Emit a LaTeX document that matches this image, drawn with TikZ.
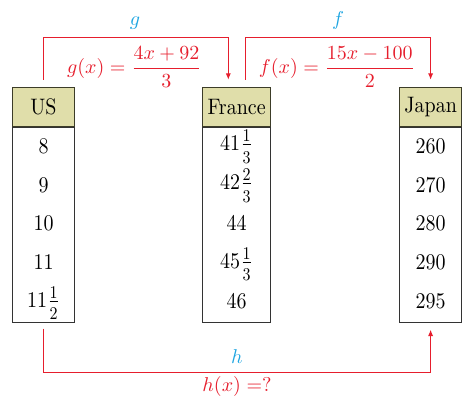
\documentclass[tikz,border=0pt]{standalone}
\usetikzlibrary{arrows.meta}
\usepackage{amsmath}
\definecolor{hdrfill}{RGB}{224,222,170}
\definecolor{hdrline}{RGB}{60,60,40}
\definecolor{arrred}{RGB}{230,30,45}
\definecolor{lblcyan}{RGB}{30,165,225}
\newcommand{\tallv}[1]{\scalebox{1}[1.12]{#1}}
\newcommand{\smdig}[1]{\scalebox{0.8}{$#1$}}
\newcommand{\mixfr}[3]{\tallv{$#1\genfrac{}{}{0.5pt}{1}{\smdig{#2}}{\raisebox{-2.2pt}{\smdig{#3}}}$}}
\tikzset{
  hdr/.style={draw=hdrline, fill=hdrfill, line width=0.5pt, inner sep=0pt},
  bodybox/.style={draw=black!80, line width=0.5pt, inner sep=0pt},
  val/.style={anchor=base, inner sep=0pt},
  arr/.style={draw=arrred, line width=0.6pt, -{Latex[length=3.2pt,width=2.6pt]}},
  fname/.style={text=lblcyan},
  formula/.style={text=arrred},
}
\begin{document}
\begin{tikzpicture}[x=0.5pt,y=-0.5pt]
\useasboundingbox (0,0) rectangle (474,410);
% headers
\node[hdr, minimum width=30.8pt, minimum height=19.7pt] (ush) at (43.5,107) {\tallv{US}};
\node[hdr, minimum width=34.2pt, minimum height=19.7pt] (frh) at (236.6,107) {\tallv{France}};
\node[hdr, minimum width=31pt, minimum height=19.7pt] (jph) at (430.6,107) {\tallv{Japan}};
% bodies
\node[bodybox, minimum width=30.8pt, minimum height=97.2pt, anchor=north] (usb) at (ush.south) {};
\node[bodybox, minimum width=34.2pt, minimum height=97.2pt, anchor=north] (frb) at (frh.south) {};
\node[bodybox, minimum width=31pt, minimum height=97.2pt, anchor=north] (jpb) at (jph.south) {};
% values
\node[val] (us1) at (43.5,153.5) {\tallv{$8$}};
\node[val] (us2) at (43.5,192.2) {\tallv{$9$}};
\node[val] (us3) at (43.5,230.9) {\tallv{$10$}};
\node[val] (us4) at (43.5,269.6) {\tallv{$11$}};
\node[val] (us5) at (43.5,307) {\mixfr{11}{1}{2}};
\node[val] (fr1) at (236.6,150.5) {\mixfr{41}{1}{3}};
\node[val] (fr2) at (236.6,189.5) {\mixfr{42}{2}{3}};
\node[val] (fr3) at (236.6,230.9) {\tallv{$44$}};
\node[val] (fr4) at (236.6,268) {\mixfr{45}{1}{3}};
\node[val] (fr5) at (236.6,308.3) {\tallv{$46$}};
\node[val] (jp1) at (430.6,153.5) {\tallv{$260$}};
\node[val] (jp2) at (430.6,192.2) {\tallv{$270$}};
\node[val] (jp3) at (430.6,230.9) {\tallv{$280$}};
\node[val] (jp4) at (430.6,269.6) {\tallv{$290$}};
\node[val] (jp5) at (430.6,308.3) {\tallv{$295$}};
% connectors
\draw[arr] ([yshift=3.5pt]ush.north) -- ++(0,-42) -| ([xshift=-4.15pt,yshift=3.5pt]frh.north);
\draw[arr] ([xshift=4.5pt,yshift=3.5pt]frh.north) -- ++(0,-42) -| ([yshift=3.5pt]jph.north);
\draw[arr] ([yshift=-3pt]usb.south) -- ++(0,44) -| ([yshift=-3.5pt]jpb.south);
% labels
\node[fname] (glbl) at (135,23) {$g$};
\node[fname] (flbl) at (338,21) {$f$};
\node[fname] (hlbl) at (237,357) {$h$};
\node[formula] (gform) at (134.5,67) {$g(x)=\displaystyle\frac{4x+92}{3}$};
\node[formula] (fform) at (337,67) {$f(x)=\displaystyle\frac{15x-100}{2}$};
\node[formula] (hform) at (237,386) {$h(x)=?$};
\end{tikzpicture}
\end{document}
